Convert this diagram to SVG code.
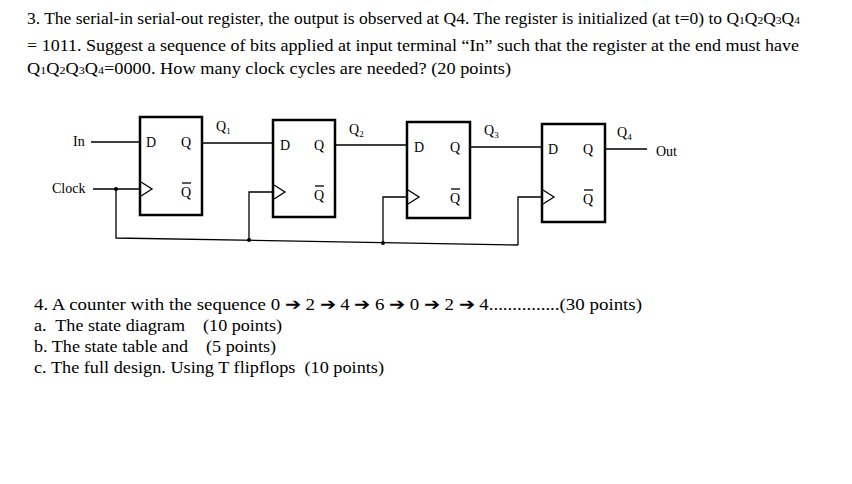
<svg xmlns="http://www.w3.org/2000/svg" width="852" height="484" viewBox="0 0 852 484">
<style>
text{font-family:"Liberation Serif",serif;fill:#000}
.t{font-size:16.7px}
.s{font-size:14px}
.ff{fill:#fff;stroke:#000;stroke-width:2.5}
.w{fill:none;stroke:#000;stroke-width:1.3}
</style>
<rect width="852" height="484" fill="#fff"/>
<g id="question3">
<text class="t" x="27" y="24" textLength="773" lengthAdjust="spacingAndGlyphs">3. The serial-in serial-out register, the output is observed at Q4. The register is initialized (at t=0) to Q<tspan font-size="11">1</tspan>Q<tspan font-size="11">2</tspan>Q<tspan font-size="11">3</tspan>Q<tspan font-size="11">4</tspan></text>
<text class="t" x="27" y="51" textLength="772" lengthAdjust="spacingAndGlyphs">= 1011. Suggest a sequence of bits applied at input terminal “In” such that the register at the end must have</text>
<text class="t" x="27" y="74" textLength="484" lengthAdjust="spacingAndGlyphs">Q<tspan font-size="11">1</tspan>Q<tspan font-size="11">2</tspan>Q<tspan font-size="11">3</tspan>Q<tspan font-size="11">4</tspan>=0000. How many clock cycles are needed? (20 points)</text>
</g>
<g id="connectors">
<path class="w" d="M91 142H140M202 143H273M336 145H407M470 147H542M605 149H647"/>
<path class="w" d="M93 189H140M116 189V238L518 245M249 240V192H273M383 243V197H407M518 245V197H542"/>
<circle cx="116" cy="189" r="2"/><circle cx="249" cy="240" r="2"/><circle cx="383" cy="243" r="2"/>
</g>
<g id="ff1"><rect class="ff" x="140" y="117" width="62" height="98"/><path class="w" d="M141 182L152 189L141 196"/><text class="s" x="146" y="147">D</text><text class="s" x="181" y="147">Q</text><text class="s" x="181" y="197">Q</text><path class="w" d="M182 183H191"/><text class="s" x="216" y="131">Q<tspan font-size="9" dy="3">1</tspan></text></g>
<g id="ff2"><rect class="ff" x="273" y="120" width="62" height="97"/><path class="w" d="M274 185L285 192L274 199"/><text class="s" x="280" y="150">D</text><text class="s" x="314" y="150">Q</text><text class="s" x="314" y="200">Q</text><path class="w" d="M315 186H324"/><text class="s" x="349" y="134">Q<tspan font-size="9" dy="3">2</tspan></text></g>
<g id="ff3"><rect class="ff" x="407" y="122" width="63" height="96"/><path class="w" d="M408 190L419 197L408 204"/><text class="s" x="414" y="152">D</text><text class="s" x="450" y="152">Q</text><text class="s" x="450" y="203">Q</text><path class="w" d="M451 189H460"/><text class="s" x="484" y="135">Q<tspan font-size="9" dy="3">3</tspan></text></g>
<g id="ff4"><rect class="ff" x="542" y="124" width="63" height="98"/><path class="w" d="M543 190L554 197L543 204"/><text class="s" x="548" y="154">D</text><text class="s" x="583" y="154">Q</text><text class="s" x="583" y="204">Q</text><path class="w" d="M584 190H593"/><text class="s" x="617" y="137">Q<tspan font-size="9" dy="3">4</tspan></text></g>
<g id="labels"><text class="s" x="73" y="146">In</text><text class="s" x="52" y="193">Clock</text><text class="s" x="656" y="156">Out</text></g>
<g id="question4">
<text class="t" x="34" y="310" textLength="608" lengthAdjust="spacingAndGlyphs">4. A counter with the sequence 0 ➔ 2 ➔ 4 ➔ 6 ➔ 0 ➔ 2 ➔ 4...............(30 points)</text>
<text class="t" x="34" y="331" xml:space="preserve" textLength="248" lengthAdjust="spacingAndGlyphs">a.  The state diagram    (10 points)</text>
<text class="t" x="34" y="352" xml:space="preserve" textLength="242" lengthAdjust="spacingAndGlyphs">b. The state table and    (5 points)</text>
<text class="t" x="34" y="373" xml:space="preserve" textLength="350" lengthAdjust="spacingAndGlyphs">c. The full design. Using T flipflops  (10 points)</text>
</g>
</svg>
